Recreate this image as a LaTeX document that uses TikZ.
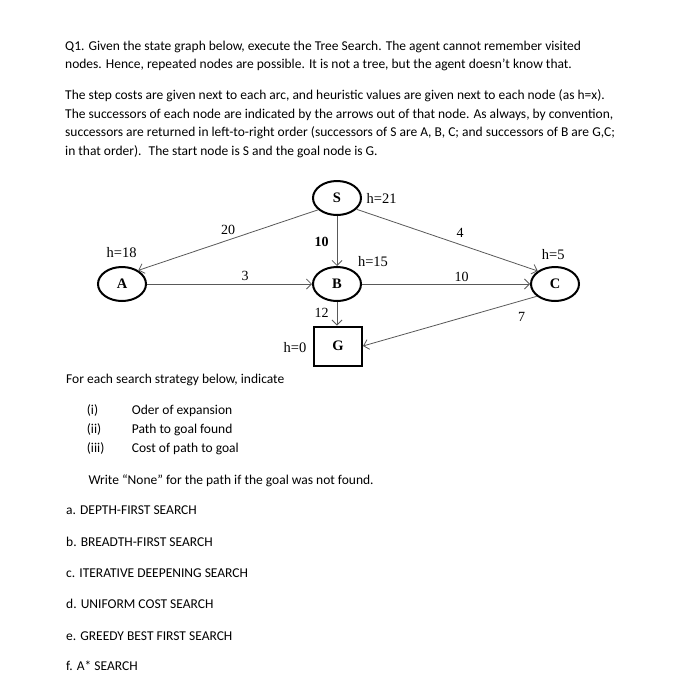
\documentclass[tikz,border=0pt]{standalone}
\usepackage{fontspec}
\setmainfont{Carlito}
\newfontfamily\gfont{Liberation Serif}
\usetikzlibrary{shapes.geometric,arrows.meta}
\begin{document}
\begin{tikzpicture}[x=1pt,y=-1pt,
  txt/.style={anchor=base west,inner sep=0pt,font=\fontsize{13.5}{16}\selectfont},
  ell/.style={ellipse,draw,line width=2pt,minimum width=48pt,minimum height=34pt,inner sep=0pt,font=\gfont\bfseries\fontsize{14.5}{16}\selectfont},
  goal/.style={rectangle,draw,line width=2pt,minimum width=48pt,minimum height=39pt,inner sep=0pt,font=\gfont\bfseries\fontsize{14.5}{16}\selectfont},
  hlab/.style={inner sep=0pt,font=\gfont\fontsize{14.5}{16}\selectfont},
  clab/.style={inner sep=0pt,font=\gfont\fontsize{14}{16}\selectfont},
  arc/.style={draw=black!65,line width=0.8pt,-{Straight Barb[length=5pt,width=10pt]}}]
\useasboundingbox[fill=white] (0,0) rectangle (700,699);
% top text
\node[txt] (t1) at (65,50) {Q1. Given the state graph below, execute the Tree Search. The agent cannot remember visited};
\node[txt] (t2) at (65,68.5) {nodes. Hence, repeated nodes are possible. It is not a tree, but the agent doesn’t know that.};
\node[txt] (t3) at (65,99.5) {The step costs are given next to each arc, and heuristic values are given next to each node (as h=x).};
\node[txt] (t4) at (65,118) {The successors of each node are indicated by the arrows out of that node. As always, by convention,};
\node[txt] (t5) at (65,136.5) {successors are returned in left-to-right order (successors of S are A, B, C; and successors of B are G,C;};
\node[txt] (t6) at (65,155) {in that order). \ The start node is S and the goal node is G.};
% graph
\node[ell] (S) at (337,198) {S};
\node[ell] (A) at (122,284) {A};
\node[ell] (B) at (337,284) {B};
\node[ell] (C) at (555,284) {C};
\node[goal] (G) at (338,346) {G};
\node[hlab] (hS) at (381.7,198) {h=21};
\node[hlab] (hA) at (121.7,253) {h=18};
\node[hlab] (hB) at (373,261.7) {h=15};
\node[hlab] (hC) at (553.3,255) {h=5};
\node[hlab] (hG) at (295,348) {h=0};
\draw[arc] (S.212) -- (A.40);
\draw[arc] (S.south) -- (B.north);
\draw[arc] (A.east) -- (B.west);
\draw[arc] (B.south) -- (B.south |- G.north);
\draw[arc] (S.330) -- (C.143);
\draw[arc] (B.east) -- (C.west);
\draw[arc] (C.214) -- (G.east);
\node[clab] (l20) at (228,230) {20};
\node[clab,font=\gfont\bfseries\fontsize{14}{16}\selectfont] (l10a) at (321.7,241.7) {10};
\node[clab] (l3) at (245,276) {3};
\node[clab] (l4) at (460,233.3) {4};
\node[clab] (l10b) at (461.7,276.7) {10};
\node[clab] (l12) at (321.7,313.3) {12};
\node[clab] (l7) at (521.7,316.7) {7};
% lower text
\node[txt] (f1) at (66,383) {For each search strategy below, indicate};
\node[txt] (i1) at (86.7,414.5) {(i)};
\node[txt] (i1t) at (131.7,414.5) {Oder of expansion};
\node[txt] (i2) at (86.7,433.5) {(ii)};
\node[txt] (i2t) at (131.7,433.5) {Path to goal found};
\node[txt] (i3) at (86.7,452.5) {(iii)};
\node[txt] (i3t) at (131.7,452.5) {Cost of path to goal};
\node[txt] (w) at (88.3,484) {Write “None” for the path if the goal was not found.};
\node[txt] (sa) at (66,514.5) {a. DEPTH-FIRST SEARCH};
\node[txt] (sb) at (66,546) {b. BREADTH-FIRST SEARCH};
\node[txt] (sc) at (66,577) {c. ITERATIVE DEEPENING SEARCH};
\node[txt] (sd) at (66,608.5) {d. UNIFORM COST SEARCH};
\node[txt] (se) at (66,640) {e. GREEDY BEST FIRST SEARCH};
\node[txt] (sf) at (66,670.5) {f. A* SEARCH};
\end{tikzpicture}
\end{document}
